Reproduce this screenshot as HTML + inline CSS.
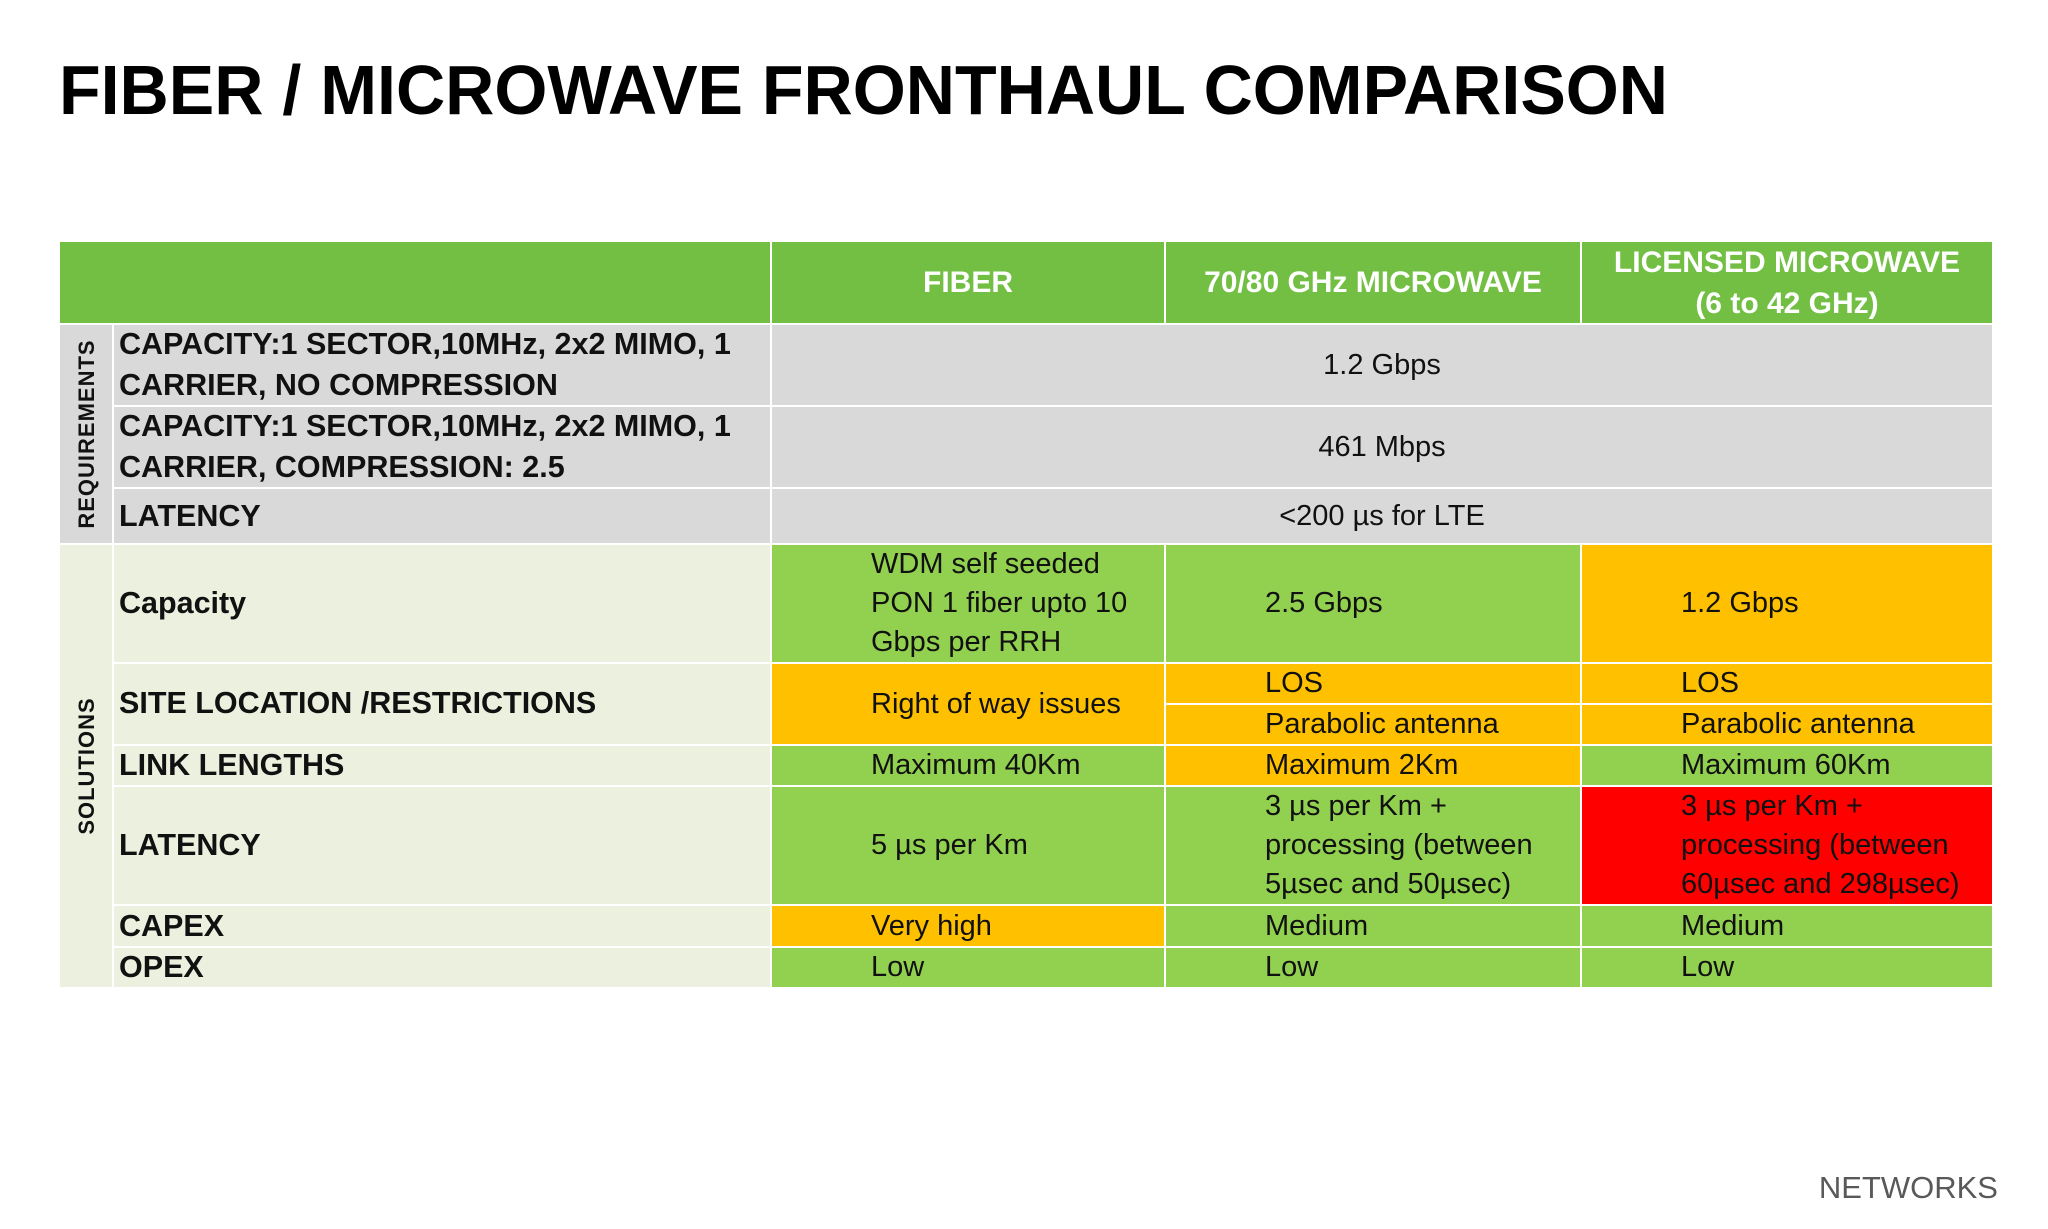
<!DOCTYPE html>
<html><head><meta charset="utf-8">
<style>
body{margin:0;width:2048px;height:1229px;background:#fff;position:relative;overflow:hidden;font-family:"Liberation Sans",Arial,sans-serif;}
.c{position:absolute;box-sizing:border-box;display:flex;align-items:center;font-size:29px;line-height:39px;color:#111;}
.h{background:#72bf44;color:#fff;font-weight:bold;justify-content:center;text-align:center;line-height:41px;font-size:30px;}
.g{background:#d9d9d9;}
.s{background:#ebf1de;}
.gr{background:#92d050;}
.or{background:#ffc000;}
.rd{background:#ff0000;}
.lb{font-weight:bold;padding-left:5px;font-size:30.5px;line-height:41px;white-space:nowrap;}
.v{padding-left:99px;}
.ctr{justify-content:center;}
.rot{position:absolute;font-weight:bold;font-size:22px;color:#111;transform:translate(-50%,-50%) rotate(-90deg);white-space:nowrap;letter-spacing:1px;}
</style></head><body>
<div id="title" style="position:absolute;left:59px;top:50px;font-size:70px;font-weight:bold;white-space:nowrap;transform-origin:0 0;color:#000;">FIBER / MICROWAVE FRONTHAUL COMPARISON</div>

<div>
<div class="c h" style="left:60px;top:242px;width:710px;height:81px;"></div>
<div class="c h" style="left:772px;top:242px;width:392px;height:81px;">FIBER</div>
<div class="c h" style="left:1166px;top:242px;width:414px;height:81px;">70/80 GHz MICROWAVE</div>
<div class="c h" style="left:1582px;top:242px;width:410px;height:81px;">LICENSED MICROWAVE<br>(6 to 42 GHz)</div>

<div class="c g" style="left:60px;top:325px;width:52px;height:218px;"></div>
<div class="rot" style="left:87px;top:434px;">REQUIREMENTS</div>
<div class="c g lb" style="left:114px;top:325px;width:656px;height:80px;">CAPACITY:1 SECTOR,10MHz, 2x2 MIMO, 1<br>CARRIER, NO COMPRESSION</div>
<div class="c g ctr" style="left:772px;top:325px;width:1220px;height:80px;">1.2 Gbps</div>
<div class="c g lb" style="left:114px;top:407px;width:656px;height:80px;">CAPACITY:1 SECTOR,10MHz, 2x2 MIMO, 1<br>CARRIER, COMPRESSION: 2.5</div>
<div class="c g ctr" style="left:772px;top:407px;width:1220px;height:80px;">461 Mbps</div>
<div class="c g lb" style="left:114px;top:489px;width:656px;height:54px;">LATENCY</div>
<div class="c g ctr" style="left:772px;top:489px;width:1220px;height:54px;">&lt;200 µs for LTE</div>

<div class="c s" style="left:60px;top:545px;width:52px;height:442px;"></div>
<div class="rot" style="left:87px;top:766px;">SOLUTIONS</div>

<div class="c s lb" style="left:114px;top:545px;width:656px;height:117px;">Capacity</div>
<div class="c gr v" style="left:772px;top:545px;width:392px;height:117px;padding-right:20px;">WDM self seeded PON 1 fiber upto 10 Gbps per RRH</div>
<div class="c gr v" style="left:1166px;top:545px;width:414px;height:117px;">2.5 Gbps</div>
<div class="c or v" style="left:1582px;top:545px;width:410px;height:117px;">1.2 Gbps</div>

<div class="c s lb" style="left:114px;top:664px;width:656px;height:80px;align-items:flex-start;padding-top:19px;">SITE LOCATION /RESTRICTIONS</div>
<div class="c or v" style="left:772px;top:664px;width:392px;height:80px;">Right of way issues</div>
<div class="c or v" style="left:1166px;top:664px;width:414px;height:39px;">LOS</div>
<div class="c or v" style="left:1166px;top:705px;width:414px;height:39px;">Parabolic antenna</div>
<div class="c or v" style="left:1582px;top:664px;width:410px;height:39px;">LOS</div>
<div class="c or v" style="left:1582px;top:705px;width:410px;height:39px;">Parabolic antenna</div>

<div class="c s lb" style="left:114px;top:746px;width:656px;height:39px;">LINK LENGTHS</div>
<div class="c gr v" style="left:772px;top:746px;width:392px;height:39px;">Maximum 40Km</div>
<div class="c or v" style="left:1166px;top:746px;width:414px;height:39px;">Maximum 2Km</div>
<div class="c gr v" style="left:1582px;top:746px;width:410px;height:39px;">Maximum 60Km</div>

<div class="c s lb" style="left:114px;top:787px;width:656px;height:117px;">LATENCY</div>
<div class="c gr v" style="left:772px;top:787px;width:392px;height:117px;">5 µs per Km</div>
<div class="c gr v" style="left:1166px;top:787px;width:414px;height:117px;">3 µs per Km +<br>processing (between<br>5µsec and 50µsec)</div>
<div class="c rd v" style="left:1582px;top:787px;width:410px;height:117px;">3 µs per Km +<br>processing (between<br>60µsec and 298µsec)</div>

<div class="c s lb" style="left:114px;top:906px;width:656px;height:40px;">CAPEX</div>
<div class="c or v" style="left:772px;top:906px;width:392px;height:40px;">Very high</div>
<div class="c gr v" style="left:1166px;top:906px;width:414px;height:40px;">Medium</div>
<div class="c gr v" style="left:1582px;top:906px;width:410px;height:40px;">Medium</div>

<div class="c s lb" style="left:114px;top:948px;width:656px;height:39px;">OPEX</div>
<div class="c gr v" style="left:772px;top:948px;width:392px;height:39px;">Low</div>
<div class="c gr v" style="left:1166px;top:948px;width:414px;height:39px;">Low</div>
<div class="c gr v" style="left:1582px;top:948px;width:410px;height:39px;">Low</div>
</div>

<div style="position:absolute;right:50px;top:1170px;font-size:31px;color:#595959;">NETWORKS</div>
<script>
var t=document.getElementById('title');
var w=t.getBoundingClientRect().width;
t.style.transform='scaleX('+(1609/w)+')';
</script>
</body></html>
